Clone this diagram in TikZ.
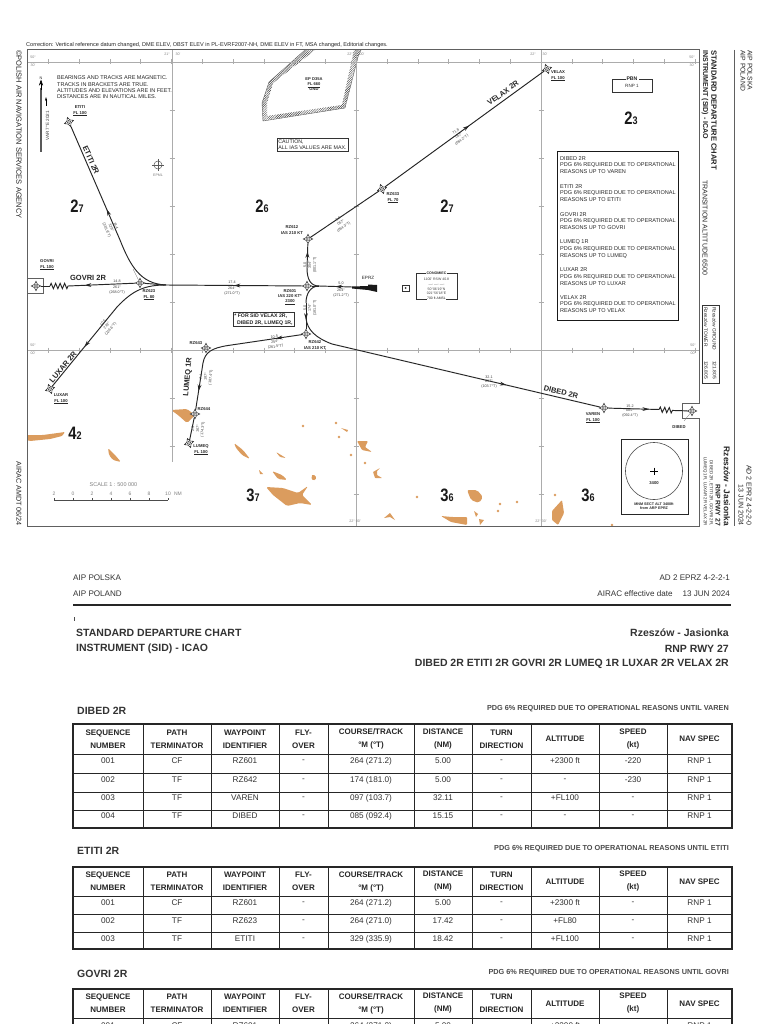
\documentclass[tikz,border=0pt]{standalone}
\usepackage{fontspec}
\setmainfont{Liberation Sans}
\usetikzlibrary{arrows.meta,shapes.geometric,patterns.meta,decorations.markings,decorations.pathmorphing}
\definecolor{terrain}{HTML}{DB9C5E}
\newcommand{\fz}[1]{\fontsize{#1}{1.25\dimexpr#1pt\relax}\selectfont}
\newcommand{\msanum}[2]{\scalebox{.82}[1]{#1{\fontsize{11}{11}\selectfont #2}}}
\tikzset{
  route/.style={line width=.95pt,black!85},
  midarrow/.style={postaction={decorate},decoration={markings,mark=at position #1 with {\arrow{Stealth[length=6.5pt,width=3.8pt]}}}},
  wpt/.style={star,star points=4,star point ratio=2.1,draw,black!80,fill=white,line width=.6pt,minimum size=9.5pt,inner sep=0pt,
    path picture={\draw[line width=.5pt] (path picture bounding box.center) circle (1.6pt);}},
  framel/.style={gray!75!black,line width=1pt},
  gridl/.style={gray!65,line width=.7pt},
  wlab/.style={font=\fz{4.2}\bfseries,align=center,inner sep=0pt,text=black!85},
  seglab/.style={font=\fontsize{3.7}{4.9}\selectfont,align=center,inner sep=0pt,text=black!75},
  rname/.style={font=\fz{7.5}\bfseries,inner sep=0pt,text=black!85},
  note/.style={font=\fz{4.7},align=left,inner sep=0pt,text=black!85,anchor=west},
  side/.style={font=\fz{6.2},inner sep=0pt,rotate=-90,text=black!85,anchor=west},
  geo/.style={font=\fz{3.6},inner sep=0pt,text=gray},
  msa/.style={font=\fontsize{18}{18}\bfseries\selectfont,inner sep=0pt,text=black!90},
  boxed/.style={draw,black!80,line width=.8pt,fill=white},
  cell/.style={font=\fz{8.2},align=center,inner sep=0pt,text=black!80},
  hcell/.style={font=\fontsize{8}{13}\bfseries\selectfont,align=center,inner sep=0pt,text=black!85},
  head/.style={font=\fz{8.1},inner sep=0pt,text=black!80},
  ttl/.style={font=\fz{10.5}\bfseries,inner sep=0pt,text=black!80},
  pdg/.style={font=\fz{7.3}\bfseries,inner sep=0pt,text=black!70,anchor=east},
  tline/.style={black!85,line width=.9pt}
}
% one table row: tag, y, cells
\newcommand{\sidrow}[4][cell]{%
  \foreach \txt [count=\c] in {#4} {
    \pgfmathsetmacro{\cx}{{108,177,245,303.5,371,443,501.5,565,633,699.5}[\c-1]}
    \node[#1] (#2-\c) at (\cx,#3) {\txt};
  }}
% table rules: top, bottom, inner rows
\newcommand{\sidgrid}[3]{%
  \draw[tline,line width=1.1pt] (73,#1) rectangle (732,#2);
  \foreach \xx in {143,211,279,328,414,472,531,599,667} \draw[tline] (\xx,#1) -- (\xx,#2);
  \foreach \yy in {#3} \draw[tline] (73,\yy) -- (732,\yy);}
\newcommand{\sidhead}[2]{%
  \sidrow[hcell]{#1}{#2}{SEQUENCE\\NUMBER,PATH\\TERMINATOR,WAYPOINT\\IDENTIFIER,FLY-\\OVER,COURSE/TRACK\\°M (°T),DISTANCE\\(NM),TURN\\DIRECTION,ALTITUDE,SPEED\\(kt),NAV SPEC}}
\begin{document}
\begin{tikzpicture}[x=1pt,y=-1pt]
\useasboundingbox (0,0) rectangle (768,1024);
\fill[white] (0,0) rectangle (768,1024);
% terrain
\fill[terrain,rounded corners=1pt] (27,435) -- (43,435) -- (65,432) -- (62,436) -- (50,439) -- (30,441) -- (27,440) -- cycle;
\fill[terrain,rounded corners=1.5pt] (108,448) -- (115,455) -- (121,462) -- (113,460) -- (109,455) -- cycle;
\fill[terrain,rounded corners=1.5pt] (171,410) -- (187,409) -- (195,415) -- (187,423) -- (178,415) -- cycle;
\fill[terrain,rounded corners=1.5pt] (234,443) -- (243,450) -- (250,459) -- (242,455) -- (236,448) -- cycle;
\fill[terrain,rounded corners=1pt] (276,452) -- (286,458) -- (280,457) -- cycle;
\fill[terrain] (259,470) -- (263,474) -- (260,474) -- cycle;
\fill[terrain,rounded corners=1.5pt] (272,471) -- (282,475) -- (287,480) -- (278,479) -- cycle;
\fill[terrain,rounded corners=1.5pt] (313,474) -- (317,478) -- (313,481) -- (311,477) -- cycle;
\fill[terrain,rounded corners=1.5pt] (266,487) -- (283,488) -- (298,493) -- (308,486) -- (302,495) -- (312,505) -- (300,503) -- (287,506) -- (273,495) -- cycle;
\fill[terrain] (341,428) -- (348,430) -- (347,432) -- cycle;
\fill[terrain,rounded corners=1pt] (357,441) -- (368,441) -- (365,447) -- (372,452) -- (362,450) -- cycle;
\fill[terrain,rounded corners=.5pt] (380,468) -- (373,472) -- (375,478) -- (382,478) -- (377,475) -- (377,471) -- cycle;
\fill[terrain,rounded corners=2pt] (467,490) -- (477,490) -- (483,497) -- (479,503) -- (471,500) -- cycle;
\fill[terrain,rounded corners=1pt] (441,516) -- (452,517) -- (467,517) -- (467,525) -- (451,522) -- cycle;
\fill[terrain] (474,511) -- (478,514) -- (476,517) -- cycle;
\fill[terrain] (479,519) -- (484,520) -- (480,525) -- cycle;
\fill[terrain,rounded corners=1pt] (552,511) -- (562,500) -- (564,513) -- (558,525) -- (552,520) -- cycle;
\fill[terrain] (384,518) -- (390,513) -- (395,520) -- (390,517) -- cycle;
\foreach \px/\py in {303/426,336/423,339/437,351/455,365/463,417/497,500/504,498/511,517/502,555/495,612/525}
  \fill[terrain] (\px,\py) circle (1.4pt);
% restricted area
\fill[pattern={Lines[angle=45,distance=1.6pt,line width=.45pt]},pattern color=black!75,even odd rule]
  (305,50) -- (269,82) -- (262,103) -- (263,121) -- (345,108) -- (358,57) -- (361,50) -- cycle
  (315,50) -- (273,83) -- (267,103) -- (267,116) -- (342,105) -- (354,50) -- cycle;
\draw[black!60,line width=.4pt] (305,50) -- (269,82) -- (262,103) -- (263,121) -- (345,108) -- (358,57) -- (361,50);
% graticule
\foreach \yy in {62,350} {
  \draw[gridl] (27,\yy) -- (699,\yy);
  \foreach \k in {-11,...,10} \draw[gridl,line width=.5pt] (387+30.8*\k,\yy-2.5) -- (387+30.8*\k,\yy+2.5);
}
\draw[gridl] (172,50) -- (172,462);
\draw[gridl] (356,50) -- (356,526);
\draw[gridl] (541,50) -- (541,526);
\foreach \yy in {110,158,206,254,302,398,446} {
  \foreach \xx in {172,356,541} \draw[gridl,line width=.5pt] (\xx-2.5,\yy) -- (\xx+2.5,\yy);
}
\foreach \xx in {356,541} \draw[gridl,line width=.5pt] (\xx-2.5,494) -- (\xx+2.5,494);
\node[geo] (geoA) at (167,54) {21°};
\node[geo] (geoB) at (178,54) {30'};
\node[geo] (geoC) at (350,54) {22°};
\node[geo] (geoD) at (362,54) {00'};
\node[geo] (geoE) at (533,54) {22°};
\node[geo] (geoF) at (545,54) {30'};
\node[geo] (geoG) at (33,57) {50°};
\node[geo] (geoH) at (33,65) {30'};
\node[geo] (geoI) at (692,57) {50°};
\node[geo] (geoJ) at (692,65) {30'};
\node[geo] (geoK) at (33,345) {50°};
\node[geo] (geoL) at (33,353) {00'};
\node[geo] (geoM) at (693,345) {50°};
\node[geo] (geoN) at (693,353) {00'};
\node[geo] (geoO) at (355,521) {22° 00'};
\node[geo] (geoP) at (541,521) {22° 30'};
% frame
\draw[framel] (43,278) -- (27,278) -- (27,526) -- (699,526) -- (699,418) -- (682,418) -- (682,403) -- (699,403) -- (699,50) -- (27,50) -- (27,278);
\draw[framel,line width=.7pt] (43,278) -- (43,293) -- (27,293);
\draw[framel] (734,50) -- (734,526);
% waypoints
\node[wpt,rotate=20] (ETITI) at (69,122) {};
\node[wpt] (GOVRI) at (36,286) {};
\node[wpt] (RZ623) at (140,283) {};
\node[wpt] (RZ601) at (307,286) {};
\node[wpt] (RZ612) at (308,239) {};
\node[wpt,rotate=20] (RZ633) at (382,189) {};
\node[wpt,rotate=20] (VELAX) at (547,69) {};
\node[wpt] (RZ642) at (306,334) {};
\node[wpt] (RZ643) at (206,348) {};
\node[wpt] (RZ644) at (195,414) {};
\node[wpt,rotate=20] (LUMEQ) at (189,443) {};
\node[wpt,rotate=20] (LUXAR) at (50,389) {};
\node[wpt] (VAREN) at (604,408) {};
\node[wpt] (DIBED) at (692,411) {};
\fill[black!90] (352,286.5) -- (368,286) -- (368,284.5) -- (377,285) -- (377,292) -- (368,290) -- (352,288.5) -- cycle;
\coordinate (EPRZ) at (352,287);
\coordinate (jnE) at (319,286);
\coordinate (jnW) at (166,285);
\coordinate (upA) at (307,268);
\coordinate (dnA) at (306,303);
\coordinate (etA) at (120,240);
\coordinate (luA) at (117,307);
\coordinate (vaA) at (306,318);
\coordinate (vaB) at (332,344);
\coordinate (lmA) at (228,345.5);
\coordinate (lmB) at (203,363);
\coordinate (zgA) at (68,286);
\coordinate (zgB) at (50,286);
\coordinate (zgC) at (659,409.5);
\coordinate (zgD) at (674,410.5);
% routes
\draw[route,midarrow=.5] (EPRZ) -- (jnE);
\draw[route] (jnE) -- (RZ601);
\draw[route,midarrow=.5] (RZ601) -- (jnW);
\draw[route] (jnW) -- (RZ623);
\draw[route,midarrow=.75] (RZ623) -- (zgA);
\draw[route,decorate,decoration={zigzag,segment length=4.5pt,amplitude=2.6pt}] (zgA) -- (zgB);
\draw[route] (zgB) -- (GOVRI);
\draw[route] (jnE) .. controls (311,286) and (307,280) .. (upA);
\draw[route,midarrow=.7] (upA) -- (RZ612);
\draw[route] (jnE) .. controls (311,286) and (306,293) .. (dnA);
\draw[route,midarrow=.65] (dnA) -- (RZ642);
\draw[route] (RZ612) -- (RZ633);
\draw[route,midarrow=.53] (RZ633) -- (VELAX);
\draw[route] (jnW) .. controls (140,284) and (130,265) .. (etA);
\draw[route,midarrow=.27] (etA) -- (ETITI);
\draw[route] (jnW) .. controls (145,285) and (133,290) .. (luA);
\draw[route,midarrow=.5] (luA) -- (LUXAR);
\draw[route,midarrow=.35] (RZ642) -- (lmA);
\draw[route] (lmA) .. controls (212,348) and (205,352) .. (lmB);
\draw[route,midarrow=.6] (lmB) -- (RZ644);
\draw[route] (RZ644) -- (LUMEQ);
\draw[route] (vaA) .. controls (307,330) and (316,338) .. (vaB);
\draw[route,midarrow=.65] (vaB) -- (VAREN);
\draw[route,midarrow=.8] (VAREN) -- (zgC);
\draw[route,decorate,decoration={zigzag,segment length=4.5pt,amplitude=2.6pt}] (zgC) -- (zgD);
\draw[route] (zgD) -- (DIBED);
\draw[gray,line width=.3pt] (RZ623) -- (133,269);
\draw[gray,line width=.3pt] (DIBED) -- (684,421);
% waypoint labels
\node[wlab] (lbETITI) at (80,111) {ETITI\\\underline{FL 100}};
\node[wlab] (lbGOVRI) at (47,265) {GOVRI\\\underline{FL 100}};
\node[wlab] (lbRZ623) at (149,295) {RZ623\\\underline{FL 80}};
\node[wlab] (lbRZ612) at (292,230) {RZ612\\IAS 210 KT};
\node[wlab] (lbRZ601) at (290,297) {RZ601\\IAS 220 KT*\\\underline{2300}};
\node[wlab] (lbRZ633) at (393,198) {RZ633\\\underline{FL 70}};
\node[wlab] (lbVELAX) at (558,76) {VELAX\\\underline{FL 100}};
\node[wlab] (lbRZ642) at (315,345) {RZ642\\IAS 210 KT};
\node[wlab] (lbRZ643) at (196,343) {RZ643};
\node[wlab] (lbRZ644) at (204,409) {RZ644};
\node[wlab] (lbLUMEQ) at (201,450) {LUMEQ\\\underline{FL 100}};
\node[wlab] (lbLUXAR) at (61,399) {LUXAR\\\underline{FL 100}};
\node[wlab] (lbVAREN) at (593,418) {VAREN\\\underline{FL 100}};
\node[wlab] (lbDIBED) at (679,427) {DIBED};
\node[wlab,font=\fz{4.6}] (lbEPRZ) at (368,278) {EPRZ};
% route names
\node[rname,rotate=-66] (nmETITI) at (91,160) {ETITI 2R};
\node[rname] (nmGOVRI) at (88,278) {GOVRI 2R};
\node[rname,rotate=36] (nmVELAX) at (503,93) {VELAX 2R};
\node[rname,rotate=-14] (nmDIBED) at (561,392) {DIBED 2R};
\node[rname,rotate=50] (nmLUXAR) at (63,367) {LUXAR 2R};
\node[rname,rotate=85] (nmLUMEQ) at (188,377) {LUMEQ 1R};
% leg data
\node[seglab,rotate=-66] (sgA) at (111,228) {18.4\\329°\\(335.9°T)};
\node[seglab] (sgB) at (117,281) {14.8};
\node[seglab] (sgC) at (117,290.5) {261°\\(268.0°T)};
\node[seglab] (sgD) at (232,282) {17.4};
\node[seglab] (sgE) at (232,291.5) {264°\\(271.0°T)};
\node[seglab] (sgF) at (341,283) {5.0};
\node[seglab] (sgG) at (341,293) {264°\\(271.2°T)};
\node[seglab,rotate=90] (sgH) at (310,265) {5.0\\354°\\(001.1°T)};
\node[seglab,rotate=90] (sgI) at (310,308) {5.0\\174°\\(181.0°T)};
\node[seglab,rotate=35] (sgJ) at (341,223) {9.8\\057°\\(064.3°T)};
\node[seglab,rotate=36] (sgK) at (459,136) {71.8\\057°\\(064.2°T)};
\node[seglab,rotate=50] (sgL) at (107,326) {10.5\\219°\\(226.6°T)};
\node[seglab,rotate=7] (sgM) at (275,342) {10.5\\254°\\(261.5°T)};
\node[seglab,rotate=85] (sgN) at (206,377) {7.4\\187°\\(187.4°T)};
\node[seglab,rotate=85] (sgO) at (198,429) {2.5\\167°\\(174.3°T)};
\node[seglab] (sgP) at (489,382) {32.1\\097°\\(103.7°T)};
\node[seglab] (sgQ) at (630,411) {15.2\\085°\\(092.4°T)};
% minimum altitudes
\node[msa] (msaA) at (77,206) {\msanum{2}{7}};
\node[msa] (msaB) at (262,206) {\msanum{2}{6}};
\node[msa] (msaC) at (447,206) {\msanum{2}{7}};
\node[msa] (msaD) at (631,118) {\msanum{2}{3}};
\node[msa] (msaE) at (75,433) {\msanum{4}{2}};
\node[msa] (msaF) at (253,495) {\msanum{3}{7}};
\node[msa] (msaG) at (447,495) {\msanum{3}{6}};
\node[msa] (msaH) at (588,495) {\msanum{3}{6}};
% text blocks on the chart
\node[note,font=\fz{5.58}] (corr) at (26,45) {Correction: Vertical reference datum changed, DME ELEV, OBST ELEV in PL-EVRF2007-NH, DME ELEV in FT, MSA changed, Editorial changes.};
\node[note,font=\fontsize{5.5}{6.4}\selectfont] (bearing) at (57,87.5) {BEARINGS AND TRACKS ARE MAGNETIC.\\TRACKS IN BRACKETS ARE TRUE.\\ALTITUDES AND ELEVATIONS ARE IN FEET.\\DISTANCES ARE IN NAUTICAL MILES.};
\node[wlab,font=\fz{3.8}] (northN) at (41,78) {N};
\coordinate (northB) at (41,152);
\draw[gray!70!black,line width=1.2pt] (northB) -- (41,88);
\draw[-{Stealth[length=6pt,width=4pt]},line width=.5pt] (41,90) -- (northN);
\draw[-{Stealth[length=4pt,width=2pt]},line width=.4pt] (46,106) -- (46,97);
\node[seglab,rotate=90,font=\fz{4.6}] (var) at (47.5,126) {VAR 7°E 2021};
\node[circle,draw,gray!70!black,line width=.5pt,inner sep=0pt,minimum size=8pt] (EPML) at (158,165) {};
\draw[gray!70!black,line width=.4pt] (152,165) -- (164,165) (158,159) -- (158,171);
\node[geo,font=\fz{3.6}] (lbEPML) at (158,175) {EPML};
\node[wlab,font=\fz{4.1}\bfseries] (d35) at (314,84) {EP D35A\\\underline{FL 660}\\GND};
\node[boxed,draw=black!80,font=\fz{5.3},align=left,inner sep=1.3pt,text=black!85] (caution) at (312.5,144.5) {CAUTION,\\ALL IAS VALUES ARE MAX.};
\node[boxed,font=\fz{5.2}\bfseries,align=left,inner sep=1.4pt,text=black!85] (forsid) at (263.5,319.5) {* FOR SID VELAX 2R,\\ \ \ DIBED 2R, LUMEQ 1R,};
\node[boxed,minimum width=40pt,minimum height=13pt,inner sep=0pt,font=\fz{4.6},text=black!80] (pbnbox) at (632,85.5) {RNP 1};
\node[font=\fz{5.2}\bfseries,fill=white,inner sep=1pt,text=black!85] (pbn) at (632,79) {PBN};
\node[draw,black!90,line width=.8pt,fill=white,minimum width=121pt,minimum height=169pt,inner sep=0pt] (pdgbox) at (617.5,235.5) {};
\foreach \nm/\wp/\yy [count=\n] in {DIBED 2R/VAREN/158,ETITI 2R/ETITI/186,GOVRI 2R/GOVRI/214,LUMEQ 1R/LUMEQ/242,LUXAR 2R/LUXAR/269.5,VELAX 2R/VELAX/297}
  \node[note,font=\fontsize{5.55}{6.9}\selectfont] (pdg\n) at (560,\yy+7) {\nm\\PDG 6\% REQUIRED DUE TO OPERATIONAL\\REASONS UP TO \wp};
% comms box
\node[draw,black!80,line width=.6pt,minimum width=41pt,minimum height=26pt,inner sep=0pt] (cbox) at (436.5,286) {};
\node[wlab,fill=white,inner sep=.6pt,font=\fz{3.6}\bfseries] (cbA) at (436.5,273.5) {CONOMIEC};
\node[seglab,font=\fontsize{3.5}{4.6}\selectfont] (cbB) at (436.5,286.5) {1100' RSW 40.8\\---- ---- ----\\50°06'19"N\\021°56'18"E};
\node[wlab,fill=white,inner sep=.6pt,font=\fz{3.4}] (cbC) at (436.5,298.5) {700 ft AMSL};
\node[draw,black!80,line width=.6pt,minimum width=7pt,minimum height=6pt,inner sep=0pt] (navaid) at (405.5,288) {};
\fill[black!80] (navaid) circle (1pt);
% frequency box
\node[draw,black!80,line width=.8pt,minimum width=17pt,minimum height=78pt,inner sep=0pt] (freq) at (710.5,344) {};
\node[side,font=\fz{4.9}] (frA) at (714.5,307) {Rzeszów GROUND};
\node[side,font=\fz{4.9}] (frB) at (706,307) {Rzeszów TOWER};
\node[side,font=\fz{4.9}] (frC) at (714.5,361) {121.805};
\node[side,font=\fz{4.9}] (frD) at (706,361) {126.805};
% msa circle
\node[draw,black!85,line width=1pt,minimum width=67pt,minimum height=75pt,inner sep=0pt] (msabox) at (654.5,476.5) {};
\node[circle,draw,black!70,line width=.6pt,minimum size=57pt,inner sep=0pt] (msac) at (654,471) {};
\draw[black,line width=.8pt] (650,471) -- (658,471) (654,467.5) -- (654,474.5);
\node[wlab] (msaval) at (654,483.5) {3400};
\node[wlab,font=\fz{3.7}\bfseries] (msaln) at (654,506) {MNM SECT ALT 3400ft\\from ARP EPRZ};
% scale
\node[geo,font=\fz{5.5}] (scl) at (113.5,485) {SCALE 1 : 500 000};
\coordinate (sclA) at (54,500);
\coordinate (sclB) at (168,500);
\draw[gray!60!black,line width=.6pt] (sclA) -- (sclB);
\foreach \lb [count=\n] in {2,0,2,4,6,8,10} {
  \draw[gray!60!black,line width=.4pt] (35+19*\n,498) -- (35+19*\n,500);
  \node[geo,font=\fz{5}] (sc\n) at (35+19*\n,494) {\lb};
}
\node[geo,font=\fz{5}] (scNM) at (178,494) {NM};
% side texts
\node[side,font=\fz{7.5}] (agency) at (19,50) {©POLISH AIR NAVIGATION SERVICES AGENCY};
\node[side,font=\fz{7.2},anchor=east] (amdt) at (19,526) {AIRAC AMDT 06/24};
\node[side,font=\fz{7.6}\bfseries] (sdc) at (714,50) {STANDARD DEPARTURE CHART};
\node[side,font=\fz{7.1}\bfseries] (isd) at (705,50) {INSTRUMENT (SID) - ICAO};
\node[side,font=\fz{7}] (trans) at (705,180) {TRANSITION ALTITUDE 6500};
\node[side,font=\fz{6.8}] (aipA) at (750,50) {AIP POLSKA};
\node[side,font=\fz{6.8}] (aipB) at (743,50) {AIP POLAND};
\node[side,font=\fz{8.4}\bfseries,anchor=east] (rzA) at (727,526) {Rzeszów - Jasionka};
\node[side,font=\fz{6.8}\bfseries,anchor=east] (rzB) at (718,526) {RNP RWY 27};
\node[side,font=\fz{4.4},anchor=east] (rzC) at (711,526) {DIBED 2R, ETITI 2R, GOVRI 2R,};
\node[side,font=\fz{4.4},anchor=east] (rzD) at (705,526) {LUMEQ 1R, LUXAR 2R VELAX 2R};
\node[side,font=\fz{7},anchor=east] (adA) at (749,526) {AD 2 EPRZ 4-2-2-0};
\node[side,font=\fz{7},anchor=east] (adB) at (741,526) {13 JUN 2024};
% page below the chart
\node[head,anchor=west] (aipC) at (73,578) {AIP POLSKA};
\node[head,anchor=west] (aipD) at (73,594) {AIP POLAND};
\node[head,anchor=east] (adC) at (730,578) {AD 2 EPRZ 4-2-2-1};
\node[head,anchor=east] (adD) at (730,594) {AIRAC effective date\hspace{10pt}13 JUN 2024};
\coordinate (ruleA) at (73,605);
\coordinate (ruleB) at (731,605);
\draw[black!85,line width=1.1pt] (ruleA) -- (ruleB);
\draw[black!70,line width=.5pt] (74,617) -- (74,621);
\node[ttl,anchor=west] (tlA) at (76,633) {STANDARD DEPARTURE CHART};
\node[ttl,anchor=west] (tlB) at (76,649) {INSTRUMENT (SID) - ICAO};
\node[ttl,anchor=east] (tlC) at (729,633) {Rzeszów - Jasionka};
\node[ttl,anchor=east] (tlD) at (729,649) {RNP RWY 27};
\node[ttl,anchor=east] (tlE) at (729,664) {DIBED 2R ETITI 2R GOVRI 2R LUMEQ 1R LUXAR 2R VELAX 2R};
% DIBED table
\node[ttl,anchor=west] (thA) at (77,711) {DIBED 2R};
\node[pdg] (pgA) at (729,709) {PDG 6\% REQUIRED DUE TO OPERATIONAL REASONS UNTIL VAREN};
\sidgrid{724}{828}{754,773,792,810}
\sidhead{dh}{739}
\sidrow{da}{761}{001,CF,RZ601,-,264 (271.2),5.00,-,+2300 ft,-220,RNP 1}
\sidrow{db}{780}{002,TF,RZ642,-,174 (181.0),5.00,-,-,-230,RNP 1}
\sidrow{dc}{798}{003,TF,VAREN,-,097 (103.7),32.11,-,+FL100,-,RNP 1}
\sidrow{dd}{816}{004,TF,DIBED,-,085 (092.4),15.15,-,-,-,RNP 1}
% ETITI table
\node[ttl,anchor=west] (thB) at (77,851) {ETITI 2R};
\node[pdg] (pgB) at (729,849) {PDG 6\% REQUIRED DUE TO OPERATIONAL REASONS UNTIL ETITI};
\sidgrid{867}{949}{896,914,932}
\sidhead{eh}{881.5}
\sidrow{ea}{903}{001,CF,RZ601,-,264 (271.2),5.00,-,+2300 ft,-,RNP 1}
\sidrow{eb}{921}{002,TF,RZ623,-,264 (271.0),17.42,-,+FL80,-,RNP 1}
\sidrow{ec}{939}{003,TF,ETITI,-,329 (335.9),18.42,-,+FL100,-,RNP 1}
% GOVRI table
\node[ttl,anchor=west] (thC) at (77,974) {GOVRI 2R};
\node[pdg] (pgC) at (729,973) {PDG 6\% REQUIRED DUE TO OPERATIONAL REASONS UNTIL GOVRI};
\sidgrid{989}{1040}{1018}
\sidhead{gh}{1003.5}
\sidrow{ga}{1026}{001,CF,RZ601,-,264 (271.2),5.00,-,+2300 ft,-,RNP 1}
\end{tikzpicture}
\end{document}
